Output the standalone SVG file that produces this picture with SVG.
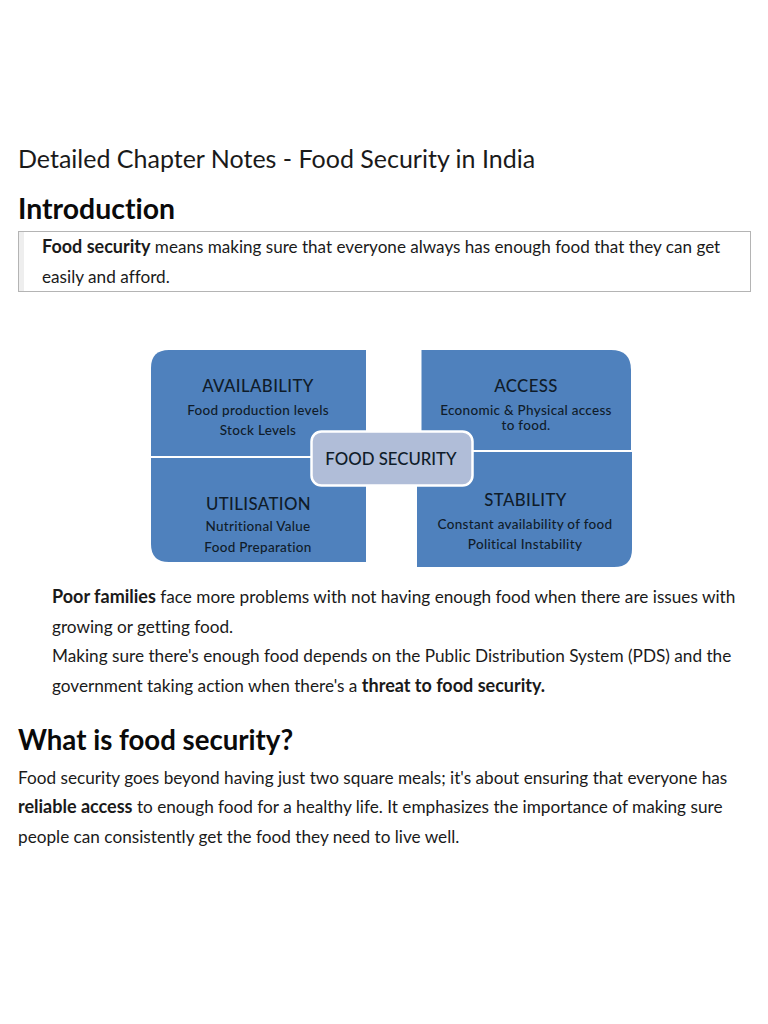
<svg xmlns="http://www.w3.org/2000/svg" width="768" height="1024" viewBox="0 0 768 1024">
<style>
text{font-family:Lato,"Noto Sans",sans-serif;fill:#1a1a1a;font-variant-ligatures:none}
.b{font-size:17.2px}
.h{font-size:27.6px;font-weight:700;fill:#0a0a0a}
.s{font-weight:700;font-size:18px}
.q{fill:#4f81bd}
.t{font-size:16.800px;text-anchor:middle;fill:#0f1c2a;font-weight:500;letter-spacing:.4px}
.u{font-size:13.500px;text-anchor:middle;fill:#0f1c2a;font-weight:500;letter-spacing:.3px}
</style>
<rect width="768" height="1024" fill="#fff"/>
<text x="18" y="167.500" font-size="25px">Detailed Chapter Notes - Food Security in India</text>
<text class="h" x="18" y="218.500" style="font-size:28.400px">Introduction</text>
<g id="callout">
<rect x="18.500" y="231.500" width="732" height="60" fill="#fff" stroke="#b4b4b4"/>
<rect x="19" y="232" width="5" height="59" fill="#eeeeee"/>
<text class="b" x="42" y="252.500" style="font-size:17.080px"><tspan class="s">Food security</tspan> means making sure that everyone always has enough food that they can get</text>
<text class="b" x="42" y="282.500">easily and afford.</text>
</g>
<g id="availability">
<path class="q" d="M366 350H169Q151 350 151 368V456H366Z"/>
<text class="t" x="258" y="392">AVAILABILITY</text>
<text class="u" x="258" y="415">Food production levels</text>
<text class="u" x="258" y="435">Stock Levels</text>
</g>
<g id="utilisation">
<path class="q" d="M151 458H366V562H169Q151 562 151 544Z"/>
<text class="t" x="258.500" y="509.500">UTILISATION</text>
<text class="u" x="258" y="531">Nutritional Value</text>
<text class="u" x="258" y="552">Food Preparation</text>
</g>
<g id="access">
<path class="q" d="M421.500 350H611Q631 350 631 370V450H421.500Z"/>
<text class="t" x="526" y="391.500">ACCESS</text>
<text class="u" x="526" y="415">Economic &amp; Physical access</text>
<text class="u" x="526" y="430">to food.</text>
</g>
<g id="stability">
<path class="q" d="M417 452H632V549Q632 567 614 567H417Z"/>
<text class="t" x="525.500" y="505.500">STABILITY</text>
<text class="u" x="525" y="529">Constant availability of food</text>
<text class="u" x="525" y="549">Political Instability</text>
</g>
<g id="food-security">
<rect x="311.500" y="431.500" width="161" height="54" rx="10" fill="#b0bdd8" stroke="#fff" stroke-width="2.500"/>
<text class="t" x="391" y="464.500" style="letter-spacing:0">FOOD SECURITY</text>
</g>
<text class="b" x="52" y="602.500"><tspan class="s">Poor families</tspan> face more problems with not having enough food when there are issues with</text>
<text class="b" x="52" y="632.500">growing or getting food.</text>
<text class="b" x="52" y="661.500">Making sure there's enough food depends on the Public Distribution System (PDS) and the</text>
<text class="b" x="52" y="691.500">government taking action when there's a <tspan class="s">threat to food security.</tspan></text>
<text class="h" x="18" y="749.500">What is food security?</text>
<text class="b" x="18" y="783.500">Food security goes beyond having just two square meals; it's about ensuring that everyone has</text>
<text class="b" x="18" y="812.500"><tspan class="s">reliable access</tspan> to enough food for a healthy life. It emphasizes the importance of making sure</text>
<text class="b" x="18" y="842.500">people can consistently get the food they need to live well.</text>
</svg>
